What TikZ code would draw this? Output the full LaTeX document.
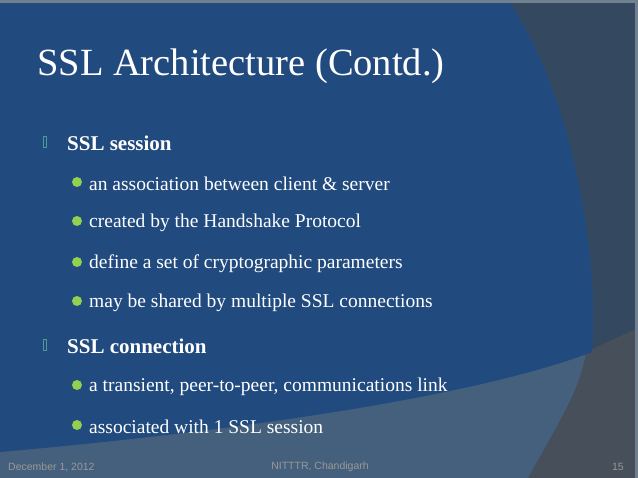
\documentclass[tikz,border=0pt]{standalone}
\usepackage{fontspec}
\setmainfont{Liberation Serif}
\newfontfamily\footfont{Liberation Sans}
\definecolor{mainblue}{HTML}{214A7E}
\definecolor{greyA}{HTML}{34495F}
\definecolor{greyB}{HTML}{474F5A}
\definecolor{bandc}{HTML}{44607C}
\definecolor{greenb}{HTML}{92D050}
\definecolor{tealb}{HTML}{4F9A94}
\begin{document}
\begin{tikzpicture}[x=1pt,y=-1pt,
  title/.style={anchor=west,text=white,font=\fontsize{38.5}{44}\selectfont,inner sep=0},
  head/.style={anchor=west,text=white,font=\fontsize{21}{24}\selectfont\bfseries,inner sep=0},
  item/.style={anchor=west,text=white,font=\fontsize{19.5}{23}\selectfont,inner sep=0},
  foot/.style={text=gray!80,font=\footfont\fontsize{10.5}{12}\selectfont,inner sep=0},
  gdot/.style={circle,fill=greenb,minimum size=10pt,inner sep=0},
  sq/.style={draw=tealb,line width=0.6pt,minimum width=3.5pt,minimum height=11pt,inner sep=0}]
\useasboundingbox (0,0) rectangle (638,478);
\fill[greyA] (0,0) rectangle (638,478);
\fill[greyB] (586,352) -- (638,328) -- (638,478) -- (528,478) .. controls (560,420) and (580,390) .. cycle;
\fill[bandc] (0,478) -- (528,478) .. controls (560,420) and (580,390) .. (586,352) -- (586,330) -- (0,330) -- cycle;
\fill[mainblue] (0,0) -- (508,0) .. controls (570,90) and (600,250) .. (592,352) .. controls (480,395) and (250,430) .. (0,452) -- cycle;
\draw[white!30!greyA,line width=3pt] (0,1.5) -- (636.5,1.5) -- (636.5,478);
\node[title] (t) at (37,66) {SSL Architecture (Contd.)};
\node[sq] (s1) at (45,142) {};
\node[head] (h1) at (67,143) {SSL session};
\node[gdot] (d1) at (77,182) {};
\node[item] (i1) at (89,184) {an association between client \& server};
\node[gdot] (d2) at (77,221) {};
\node[item] (i2) at (89,223) {created by the Handshake Protocol};
\node[gdot] (d3) at (77,262) {};
\node[item] (i3) at (89,264) {define a set of cryptographic parameters};
\node[gdot] (d4) at (77,301) {};
\node[item] (i4) at (89,303) {may be shared by multiple SSL connections};
\node[sq] (s2) at (45,345) {};
\node[head] (h2) at (67,346) {SSL connection};
\node[gdot] (d5) at (77,385) {};
\node[item] (i5) at (89,387) {a transient, peer-to-peer, communications link};
\node[gdot] (d6) at (77,425) {};
\node[item] (i6) at (89,427) {associated with 1 SSL session};
\node[foot,anchor=west] (f1) at (8,467) {December 1, 2012};
\node[foot] (f2) at (320,467) {NITTTR, Chandigarh};
\node[foot,anchor=east] (f3) at (624,467) {15};
\end{tikzpicture}
\end{document}
